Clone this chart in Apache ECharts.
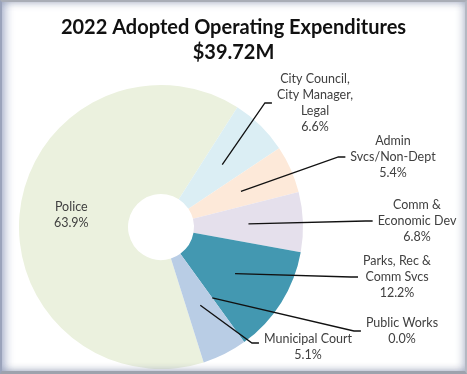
<!DOCTYPE html>
<html>
<head>
<meta charset="utf-8">
<script src="https://cdn.jsdelivr.net/npm/echarts@6/dist/echarts.min.js"></script>
<style>
  html, body { margin: 0; padding: 0; background: #ffffff; }
  #wrap { position: relative; width: 467px; height: 374px; overflow: hidden; background: #fff; }
  #chart { position: absolute; left: 0; top: 0; width: 467px; height: 374px; }
  #frame {
    position: absolute; left: 0; top: 0; width: 467px; height: 374px; box-sizing: border-box;
    pointer-events: none;
    border-top: 2px solid #a9adb6; border-bottom: 3px solid #9da2ad;
    border-left: 2px solid #9aa3bb; border-right: 2px solid #b4b8c2;
    box-shadow: inset 7px 0 8px -3px rgba(120,135,175,0.55), inset -6px 0 7px -3px rgba(140,150,180,0.45),
                inset 0 6px 7px -4px rgba(150,155,175,0.4), inset 0 -6px 7px -4px rgba(150,155,175,0.45);
  }
</style>
</head>
<body>
<div id="wrap"><div id="chart"></div><div id="frame"></div></div>
<script>
// ---- data ----
const titleText = '2022 Adopted Operating Expenditures';
const subtitleText = '$39.72M';
const categories = [
  'Police',
  'City Council,\nCity Manager,\nLegal',
  'Admin\nSvcs/Non-Dept',
  'Comm &\nEconomic Dev',
  'Parks, Rec &\nComm Svcs',
  'Public Works',
  'Municipal Court'
];
const percentages = [63.9, 6.6, 5.4, 6.8, 12.2, 0.0, 5.1];
const sliceColors = ['#ebf1de', '#dbeef4', '#fde9d9', '#e5e0ec', '#4398b1', '#8eb4e3', '#b9cde5'];

// ---- layout (label placement, not data) ----
const CX = 161, CY = 227, R_IN = 33, R_OUT = 142;
const START_CW = 162.5; // first slice start, degrees clockwise from 12 o'clock
const labelCenters = [null, [315, 103], [393, 157], [417, 221], [397, 277], [402, 331], [308, 347]];
const LABEL_FONT = '12.5px Lato';

const total = percentages.reduce((a, b) => a + b, 0);
const midAngles = [];
(function () {
  let acc = 0;
  percentages.forEach(v => {
    midAngles.push(START_CW + (acc + v / 2) / total * 360);
    acc += v;
  });
})();

const labelText = i => categories[i] + '\n' + percentages[i].toFixed(1) + '%';

const ctx = document.createElement('canvas').getContext('2d');
ctx.font = LABEL_FONT;
function textWidth(s) {
  return Math.max.apply(null, s.split('\n').map(l => ctx.measureText(l).width));
}

const chart = echarts.init(document.getElementById('chart'), null, { renderer: 'canvas' });

const data = categories.map((name, i) => {
  const item = { name: name, value: percentages[i], itemStyle: { color: sliceColors[i] } };
  if (i === 0) item.label = { position: 'inside' };
  return item;
});

// leader lines: from slice mid-radius at mid-angle to the label's left side
const leaders = [];
categories.forEach((_, i) => {
  const c = labelCenters[i];
  if (!c) return;
  const a = midAngles[i] * Math.PI / 180;
  const rMid = (R_IN + R_OUT) / 2;
  const start = [CX + Math.sin(a) * rMid, CY - Math.cos(a) * rMid];
  const ey = i === 6 ? c[1] - 4 : c[1];
  const end = [c[0] - textWidth(labelText(i)) / 2 - 5, ey];
  const elbow = [end[0] - 7, ey];
  leaders.push({
    type: 'polyline',
    z: 100,
    silent: true,
    shape: { points: [start, elbow, end] },
    style: { stroke: '#111', lineWidth: 1.3, fill: null }
  });
});

chart.setOption({
  animation: false,
  backgroundColor: 'transparent',
  title: {
    text: titleText + '\n' + subtitleText,
    left: 'center',
    top: 10,
    textStyle: {
      fontFamily: 'Lato', fontWeight: 'bold', fontSize: 20, color: '#111', lineHeight: 25
    }
  },
  graphic: leaders,
  series: [{
    type: 'pie',
    center: [CX, CY],
    radius: [R_IN, R_OUT],
    startAngle: 90 - START_CW,
    clockwise: true,
    avoidLabelOverlap: false,
    itemStyle: { borderWidth: 0 },
    emphasis: { disabled: true },
    label: {
      show: true,
      position: 'outside',
      fontFamily: 'Lato',
      fontSize: 12.5,
      lineHeight: 16,
      color: '#404040',
      align: 'center',
      formatter: p => labelText(p.dataIndex)
    },
    labelLine: { show: false },
    labelLayout: function (params) {
      const c = labelCenters[params.dataIndex];
      if (!c) return {};
      return { x: c[0], y: c[1], align: 'center', verticalAlign: 'middle' };
    },
    data: data
  }]
});
</script>
</body>
</html>
